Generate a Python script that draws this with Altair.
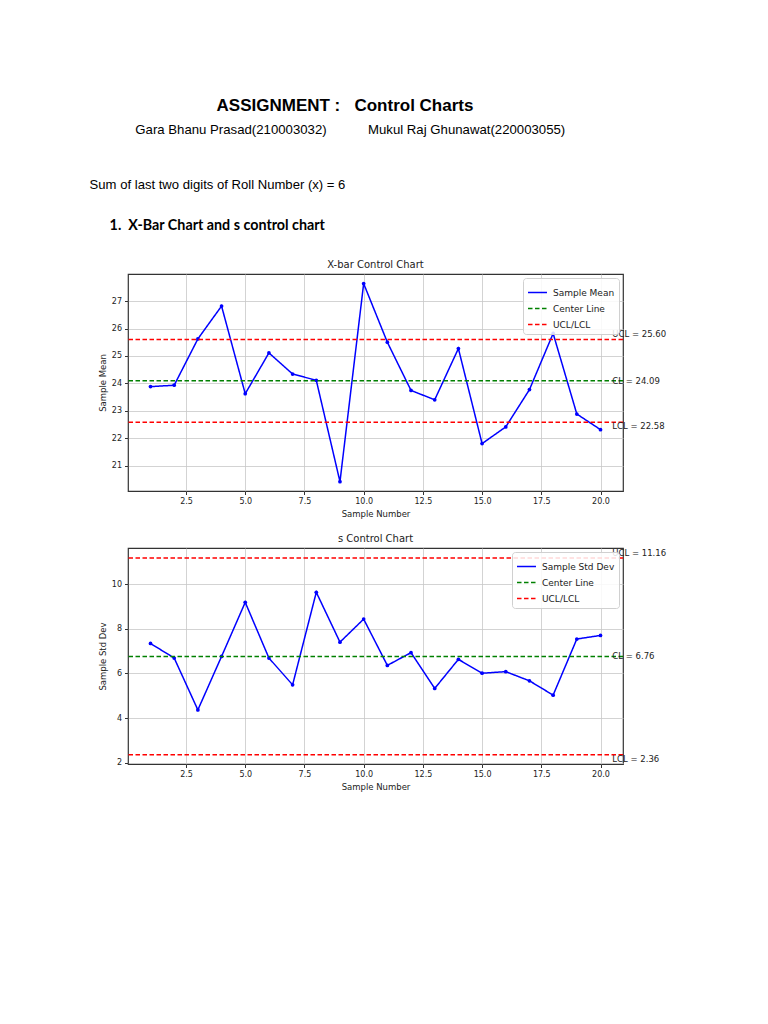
import altair as alt
import pandas as pd

# ---------------- data ----------------
samples = list(range(1, 21))
sample_means = [23.88, 23.93, 25.62, 26.82, 23.62, 25.11, 24.34, 24.11, 20.41, 27.64,
                25.50, 23.74, 23.40, 25.27, 21.80, 22.41, 23.77, 25.82, 22.88, 22.31]
sample_stds = [7.34, 6.69, 4.37, 6.76, 9.18, 6.69, 5.49, 9.63, 7.40, 8.43,
               6.36, 6.93, 5.33, 6.63, 6.01, 6.08, 5.67, 5.03, 7.54, 7.70]
limit_kinds = ["UCL", "CL", "LCL"]
xbar_limits = [25.60, 24.09, 22.58]
s_limits = [11.16, 6.76, 2.36]
limit_series = ["UCL/LCL", "Center Line", "UCL/LCL"]
x_ticks = [2.5, 5.0, 7.5, 10.0, 12.5, 15.0, 17.5, 20.0]
xbar_y_ticks = [21, 22, 23, 24, 25, 26, 27]
s_y_ticks = [2, 4, 6, 8, 10]

page_title = "ASSIGNMENT :\u00a0\u00a0\u00a0Control Charts"
author_1 = "Gara Bhanu Prasad(210003032)"
author_2 = "Mukul Raj Ghunawat(220003055)"
intro_text = "Sum of last two digits of Roll Number (x) = 6"
section_text = "1.\u00a0\u00a0X-Bar Chart and s control chart"

PLOT_W = 495
FONT = "DejaVu Sans"
DOC_FONT = "Liberation Sans"
TXT = "#222222"


def control_chart(values, limits, y_title, line_label, title, y_domain, y_ticks, plot_h):
    df = pd.DataFrame({"sample": samples, "value": values, "series": line_label})
    lim_df = pd.DataFrame({
        "kind": limit_kinds,
        "value": limits,
        "series": limit_series,
        "label": [f"{k} = {v:.2f}" for k, v in zip(limit_kinds, limits)],
        "xpos": [max(samples) + 0.5] * 3,
    })
    domain = [line_label, "Center Line", "UCL/LCL"]
    legend = alt.Legend(
        title=None, orient="top-right", offset=4, symbolType="stroke",
        symbolSize=360, symbolStrokeWidth=1.5, labelFont=FONT, labelFontSize=9,
        labelColor=TXT, fillColor="rgba(255,255,255,0.85)", strokeColor="#d0d0d0",
        padding=4, cornerRadius=3, rowPadding=0, labelOffset=5,
    )
    color = alt.Color("series:N", scale=alt.Scale(domain=domain, range=["#0000ff", "#008000", "#ff0000"]),
                      legend=legend)
    dash = alt.StrokeDash("series:N", scale=alt.Scale(domain=domain, range=[[1, 0], [4.5, 2.5], [4.5, 2.5]]),
                          legend=legend)
    xscale = alt.Scale(domain=[0.05, 20.95], nice=False, zero=False)
    yscale = alt.Scale(domain=y_domain, nice=False, zero=False)
    x = alt.X("sample:Q", scale=xscale,
              axis=alt.Axis(values=x_ticks, format=".1f", title="Sample Number"))
    y = alt.Y("value:Q", scale=yscale,
              axis=alt.Axis(values=y_ticks, format="d", title=y_title))

    line = alt.Chart(df).mark_line(strokeWidth=1.5).encode(x=x, y=y, color=color, strokeDash=dash)
    pts = alt.Chart(df).mark_circle(size=14, opacity=1, color="#0000ff").encode(x=x, y=y)
    rules = alt.Chart(lim_df).mark_rule(strokeWidth=1.5).encode(y=y, color=color, strokeDash=dash)
    texts = []
    for kind, base in zip(limit_kinds, ["bottom", "middle", "top"]):
        texts.append(
            alt.Chart(lim_df).transform_filter(alt.datum.kind == kind)
            .mark_text(align="left", baseline=base, font=FONT, fontSize=8.5, color=TXT)
            .encode(x=alt.X("xpos:Q", scale=xscale), y=y, text="label:N")
        )
    return alt.layer(line, pts, rules, *texts).properties(
        width=PLOT_W, height=plot_h,
        title=alt.TitleParams(title, font=FONT, fontSize=10, fontWeight="normal",
                              color=TXT, offset=4, frame="group", anchor="middle"),
        view=alt.ViewBackground(stroke="#333333", strokeWidth=1.2),
    )


xbar_chart = control_chart(sample_means, xbar_limits, "Sample Mean", "Sample Mean",
                           "X-bar Control Chart", [20.07, 27.99], xbar_y_ticks, 217)
s_chart = control_chart(sample_stds, s_limits, "Sample Std Dev", "Sample Std Dev",
                        "s Control Chart", [1.95, 11.61], s_y_ticks, 216)

# ---------------- header ----------------
hdr = alt.Chart(pd.DataFrame({"k": [0]}))
header = alt.layer(
    hdr.mark_text(text=page_title, font=DOC_FONT, fontWeight="bold", fontSize=17,
                  align="center", baseline="alphabetic", color="black")
       .encode(x=alt.value(217), y=alt.value(102.7)),
    hdr.mark_text(text=author_1, font=DOC_FONT, fontSize=13.2, align="left",
                  baseline="alphabetic", color="black")
       .encode(x=alt.value(7.3), y=alt.value(126.3)),
    hdr.mark_text(text=author_2, font=DOC_FONT, fontSize=13.2, align="left",
                  baseline="alphabetic", color="black")
       .encode(x=alt.value(240), y=alt.value(126.3)),
    hdr.mark_text(text=intro_text, font=DOC_FONT, fontSize=13.1, align="left",
                  baseline="alphabetic", color="black")
       .encode(x=alt.value(-38.4), y=alt.value(181.3)),
    hdr.mark_text(text=section_text, font="Lato", fontWeight="bold", fontSize=14.3,
                  align="left", baseline="alphabetic", color="black")
       .encode(x=alt.value(-18.4), y=alt.value(222)),
).properties(width=PLOT_W, height=209)

chart = alt.vconcat(header, xbar_chart, s_chart, spacing=57, bounds="flush").resolve_scale(
    color="independent", strokeDash="independent"
).resolve_legend(
    color="independent", strokeDash="independent"
).properties(
    padding={"left": 81, "top": 0, "right": 5, "bottom": 5},
    background="white",
).configure_view(stroke=None).configure_axis(
    labelFont=FONT, labelFontSize=8, labelColor=TXT, titleFont=FONT, titleFontSize=8.5,
    titleFontWeight="normal", titleColor=TXT, gridColor="#c8c8c8", gridWidth=0.8,
    tickColor="#333333", tickSize=3.5, domain=False, labelPadding=3, titlePadding=4,
)

chart.save("out.html", embed_options={"renderer": "svg", "actions": False})
